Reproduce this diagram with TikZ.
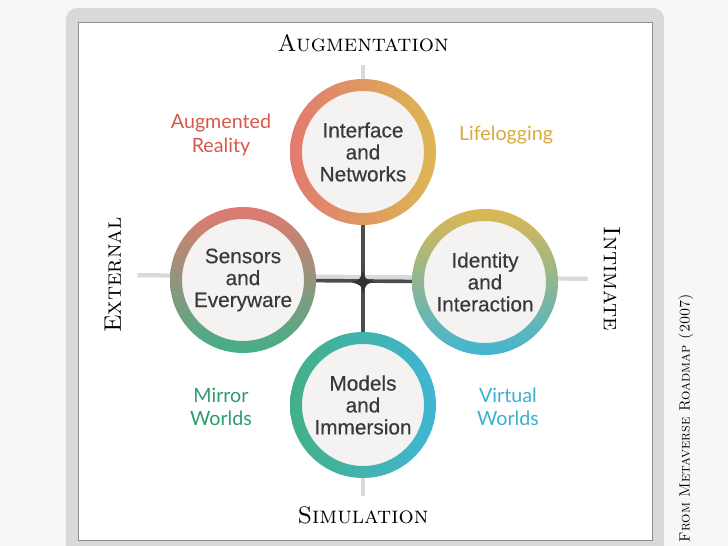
\documentclass[tikz,border=0pt]{standalone}
\usepackage{fontspec}
\usepackage{tikz}
\usetikzlibrary{backgrounds}
\newfontfamily\circfont[FakeBold=0.4]{Liberation Sans}
\newfontfamily\labfont{Lato}

\definecolor{ringred}{HTML}{E27A70}
\definecolor{ringgold}{HTML}{DDB752}
\definecolor{ringgreen}{HTML}{43AF88}
\definecolor{ringcyan}{HTML}{41B6D3}
\definecolor{innerfill}{HTML}{F4F3F1}
\definecolor{circtext}{HTML}{3A3A3A}
\definecolor{labred}{HTML}{D9574C}
\definecolor{labgold}{HTML}{D8AA3C}
\definecolor{labgreen}{HTML}{2F9C6D}
\definecolor{labcyan}{HTML}{3AB1D2}

\tikzset{
	topic/.style={circle, fill=innerfill, minimum size=3.05cm, inner sep=0pt,
		align=center, text=circtext, font=\circfont\fontsize{14.8}{15.6}\selectfont},
	axislabel/.style={font=\fontsize{17}{19}\selectfont, text=black},
	quadlabel/.style={align=center, font=\labfont\fontsize{14}{16.5}\selectfont},
	axis/.style={line width=3pt, draw=black!15},
	spoke/.style={line width=2.6pt, draw=black!70}
}

\begin{document}
\begin{tikzpicture}
	
	\useasboundingbox (0,0) rectangle (18.2,13.65);
	
	% the four topics
	\node[topic] (iface)    at (9.075,9.85)  {Interface\\and\\Networks};
	\node[topic] (sensors)  at (6.075,6.65)  {Sensors\\and\\Everyware};
	\node[topic] (identity) at (12.125,6.6)  {Identity\\and\\Interaction};
	\node[topic] (models)   at (9.075,3.525) {Models\\and\\Immersion};
	
	\shade[even odd rule, left color=ringred, right color=ringgold]
		(iface.center) circle (1.825) (iface.center) circle (1.525);
	\shade[even odd rule, top color=ringred, bottom color=ringgreen]
		(sensors.center) circle (1.825) (sensors.center) circle (1.525);
	\shade[even odd rule, top color=ringgold, bottom color=ringcyan]
		(identity.center) circle (1.825) (identity.center) circle (1.525);
	\shade[even odd rule, left color=ringgreen, right color=ringcyan]
		(models.center) circle (1.825) (models.center) circle (1.525);
	
	% axes
	\node[axislabel] (aug) at (9.075,12.575) {\textsc{Augmentation}};
	\node[axislabel] (sim) at (9.075,0.775) {\textsc{Simulation}};
	\node[axislabel, rotate=90]  (ext)   at (2.825,6.775) {\textsc{External}};
	\node[axislabel, rotate=-90] (intim) at (15.3,6.675)  {\textsc{Intimate}};
	
	\node[rotate=90, font=\fontsize{10.5}{12}\selectfont] (src) at (17.15,3.2)
		{\textsc{From Metaverse Roadmap (2007)}};
	
	% quadrants
	\node[quadlabel, text=labred]   (ar)   at (5.525,10.275) {Augmented\\Reality};
	\node[quadlabel, text=labgold]  (life) at (12.65,10.275) {Lifelogging};
	\node[quadlabel, text=labgreen] (mw)   at (5.525,3.475)  {Mirror\\Worlds};
	\node[quadlabel, text=labcyan]  (vw)   at (12.7,3.475)   {Virtual\\Worlds};
	
	\begin{scope}[on background layer]
		\fill[black!3] (0,0) rectangle (18.2,13.65);
		\fill[black!15, rounded corners=8pt] (1.65,-0.3) rectangle (16.6,13.45);
		\draw[black!45, fill=white] (1.95,0.15) rectangle (16.3,13.1);
		
		\draw[axis, shorten <=6pt, shorten >=4pt] (aug) -- (sim);
		\draw[axis, shorten <=8pt, shorten >=8pt] (ext) -- (intim);
		\draw[spoke] (iface) -- (models);
		\draw[spoke] (sensors) -- (identity);
		
		\coordinate (hub) at (9.075,6.6);
		\fill[black!80] (hub) ++(0,0.3) .. controls +(0.04,-0.22) .. ++(0.3,-0.3)
			.. controls +(-0.22,-0.04) .. ++(-0.3,-0.3)
			.. controls +(-0.04,0.22) .. ++(-0.3,0.3)
			.. controls +(0.22,0.04) .. cycle;
	\end{scope}
	
\end{tikzpicture}
\end{document}
